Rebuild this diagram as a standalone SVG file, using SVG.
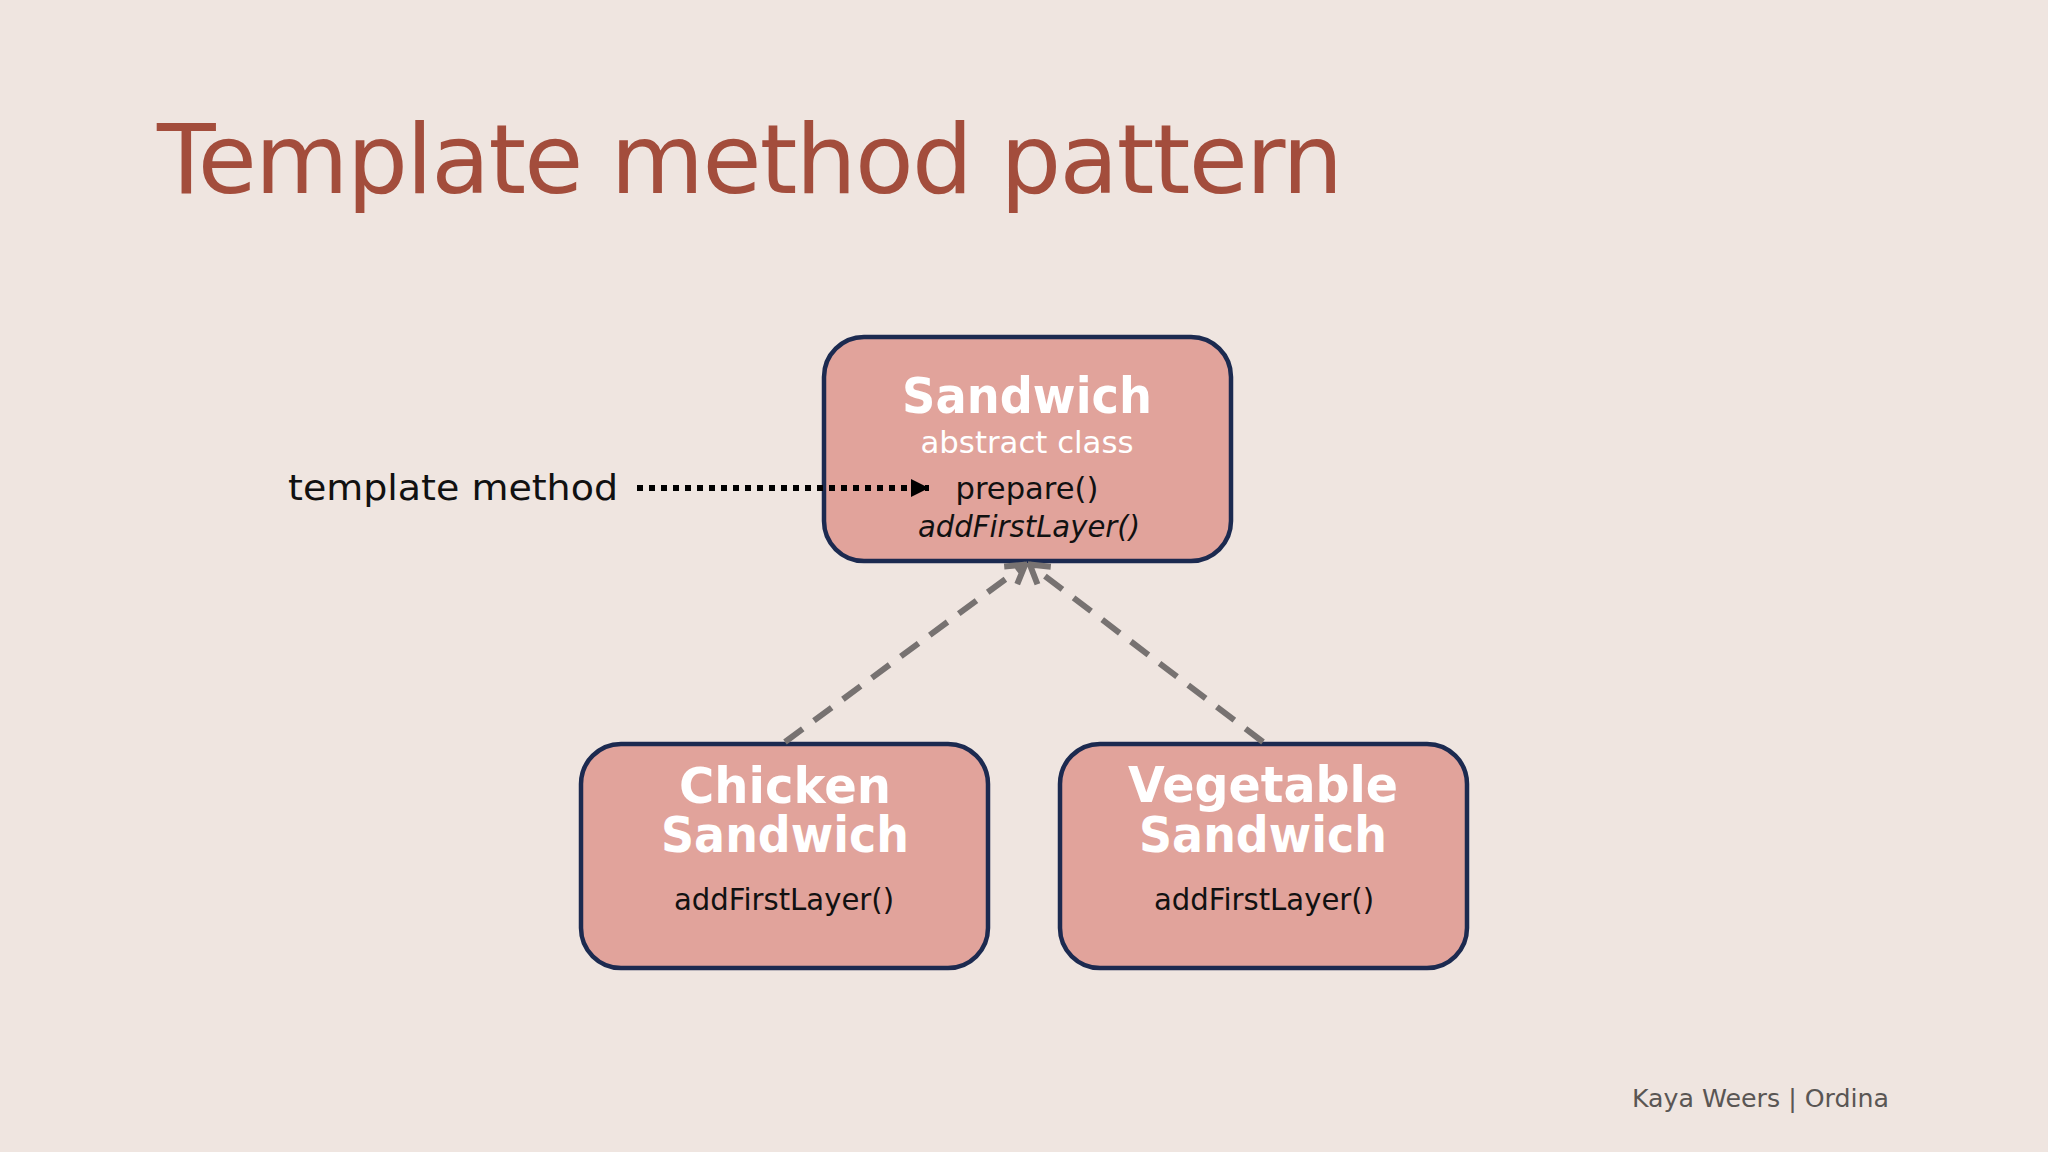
<svg xmlns="http://www.w3.org/2000/svg" width="2048" height="1152" viewBox="0 0 2048 1152">
<style>
.box{fill:#e1a39b;stroke:#1c2a50;stroke-width:4.5}
.t{font-family:"DejaVu Sans","Liberation Sans",sans-serif}
.name{font-weight:bold;font-size:50px;fill:#ffffff;text-anchor:middle}
.m{font-size:31px;fill:#111111;text-anchor:middle}
.inh{fill:none;stroke:#777271;stroke-width:6;stroke-dasharray:22 14}
</style>
<defs>
<marker id="tri" viewBox="0 0 10 10" refX="10" refY="5" markerWidth="19" markerHeight="18" markerUnits="userSpaceOnUse" orient="auto">
<path d="M0,0 L10,5 L0,10 Z" fill="#000"/>
</marker>
<marker id="open" viewBox="0 0 24 28" refX="22" refY="14" markerWidth="24" markerHeight="28" markerUnits="userSpaceOnUse" orient="auto">
<path d="M3,3 L21,14 L3,25" fill="none" stroke="#777271" stroke-width="6"/>
</marker>
</defs>
<rect width="2048" height="1152" fill="#efe5e0"/>
<text class="t" x="157" y="193" font-size="96" fill="#a34d3c" textLength="1186" lengthAdjust="spacing">Template method pattern</text>

<g id="sandwich">
<rect class="box" x="824" y="337" width="407" height="224" rx="40"/>
<text class="t name" x="1027" y="413" textLength="250" lengthAdjust="spacingAndGlyphs">Sandwich</text>
<text class="t" x="1027" y="453" font-size="30" fill="#ffffff" text-anchor="middle" textLength="213" lengthAdjust="spacingAndGlyphs">abstract class</text>
<text class="t m" x="1027" y="499" textLength="143" lengthAdjust="spacingAndGlyphs">prepare()</text>
<text class="t m" x="1029" y="537" font-style="italic" textLength="222" lengthAdjust="spacingAndGlyphs">addFirstLayer()</text>
</g>

<g id="chicken">
<rect class="box" x="581" y="744" width="407" height="224" rx="40"/>
<text class="t name" x="785" y="803" textLength="212" lengthAdjust="spacingAndGlyphs">Chicken</text>
<text class="t name" x="785" y="852" textLength="248" lengthAdjust="spacingAndGlyphs">Sandwich</text>
<text class="t m" x="784" y="910" textLength="220" lengthAdjust="spacingAndGlyphs">addFirstLayer()</text>
</g>

<g id="vegetable">
<rect class="box" x="1060" y="744" width="407" height="224" rx="40"/>
<text class="t name" x="1263" y="802" textLength="270" lengthAdjust="spacingAndGlyphs">Vegetable</text>
<text class="t name" x="1263" y="852" textLength="248" lengthAdjust="spacingAndGlyphs">Sandwich</text>
<text class="t m" x="1264" y="910" textLength="220" lengthAdjust="spacingAndGlyphs">addFirstLayer()</text>
</g>

<g id="label">
<text class="t" x="288" y="500" font-size="36" fill="#111111" textLength="330" lengthAdjust="spacingAndGlyphs">template method</text>
</g>

<g id="connectors">
<line class="inh" x1="785" y1="742" x2="1026" y2="564" marker-end="url(#open)"/>
<line class="inh" x1="1263" y1="742" x2="1029" y2="564" marker-end="url(#open)"/>
<line x1="637" y1="488" x2="929" y2="488" stroke="#000" stroke-width="6" stroke-dasharray="6 6" marker-end="url(#tri)"/>
</g>

<text class="t" x="1632" y="1107" font-size="24" fill="#5a5654" textLength="257" lengthAdjust="spacingAndGlyphs">Kaya Weers | Ordina</text>
</svg>
